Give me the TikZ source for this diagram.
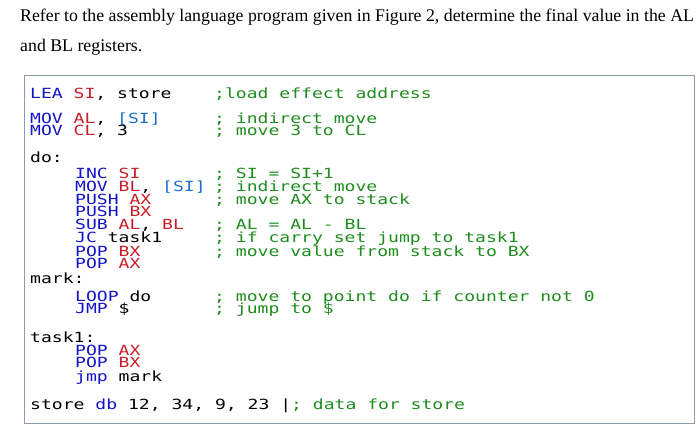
\documentclass[tikz,border=0pt]{standalone}
\usepackage{fontspec}
\setmainfont{Liberation Serif}
\newfontfamily\codefont[FakeStretch=1.29]{DejaVu Sans Mono}
\definecolor{kb}{RGB}{20,20,200}
\definecolor{kr}{RGB}{200,30,40}
\definecolor{kg}{RGB}{30,140,30}
\definecolor{kc}{RGB}{30,110,200}
\definecolor{frame}{RGB}{140,155,175}
\newcommand\kB[1]{\textcolor{kb}{#1}}
\newcommand\kR[1]{\textcolor{kr}{#1}}
\newcommand\kC[1]{\textcolor{kc}{#1}}
\tikzset{code/.style={anchor=base west,inner sep=0pt,font=\codefont\fontsize{14}{14}\selectfont},
cmt/.style={code,text=kg},
hdr/.style={anchor=base west,inner sep=0pt,font=\fontsize{17.8}{18}\selectfont}}
\begin{document}
\begin{tikzpicture}[x=1pt,y=-1pt]
\useasboundingbox (0,0) rectangle (700,435);
\node[hdr] (h1) at (20,22) {Refer to the assembly language program given in Figure 2, determine the final value in the AL};
\node[hdr] (h2) at (20,52) {and BL registers.};
\draw[frame,line width=1pt] (24,76) rectangle (694,423);
\node[code] (a1) at (30,99) {\kB{LEA} \kR{SI}, store};
\node[cmt] (c1) at (214,99) {;load effect address};
\node[code] (a2) at (30,124) {\kB{MOV} \kR{AL}, \kC{[SI]}};
\node[cmt] (c2) at (214,124) {; indirect move};
\node[code] (a3) at (30,136) {\kB{MOV} \kR{CL}, 3};
\node[cmt] (c3) at (214,136) {; move 3 to CL};
\node[code] (l1) at (30,163) {do:};
\node[code] (b1) at (75,179) {\kB{INC} \kR{SI}};
\node[cmt] (d1) at (214,179) {; SI = SI+1};
\node[code] (b2) at (75,192) {\kB{MOV} \kR{BL}, \kC{[SI]}};
\node[cmt] (d2) at (214,192) {; indirect move};
\node[code] (b3) at (75,205) {\kB{PUSH} \kR{AX}};
\node[cmt] (d3) at (214,205) {; move AX to stack};
\node[code] (b4) at (75,217) {\kB{PUSH} \kR{BX}};
\node[code] (b5) at (75,230) {\kB{SUB} \kR{AL}, \kR{BL}};
\node[cmt] (d5) at (214,230) {; AL = AL - BL};
\node[code] (b6) at (75,243) {\kB{JC} task1};
\node[cmt] (d6) at (214,243) {; if carry set jump to task1};
\node[code] (b7) at (75,256) {\kB{POP} \kR{BX}};
\node[cmt] (d7) at (214,256) {; move value from stack to BX};
\node[code] (b8) at (75,269) {\kB{POP} \kR{AX}};
\node[code] (l2) at (30,283) {mark:};
\node[code] (e1) at (75,301) {\kB{LOOP} do};
\node[cmt] (f1) at (214,301) {; move to point do if counter not 0};
\node[code] (e2) at (75,313) {\kB{JMP} \$};
\node[cmt] (f2) at (214,313) {; jump to \$};
\node[code] (l3) at (30,342) {task1:};
\node[code] (g1) at (75,355) {\kB{POP} \kR{AX}};
\node[code] (g2) at (75,367) {\kB{POP} \kR{BX}};
\node[code] (g3) at (75,381) {\kB{jmp} mark};
\node[code] (s1) at (30,409) {store \kB{db} 12, 34, 9, 23 |\textcolor{kg}{; data for store}};
\end{tikzpicture}
\end{document}
